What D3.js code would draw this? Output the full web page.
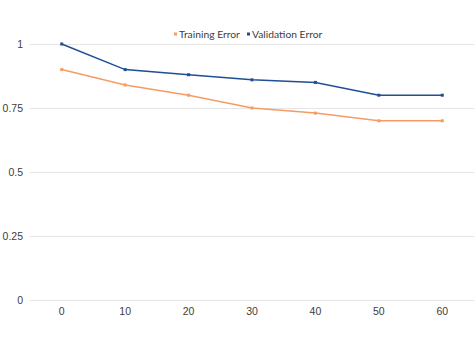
<!DOCTYPE html>
<html><head><meta charset="utf-8">
<script src="https://cdn.jsdelivr.net/npm/d3@7"></script>
<style>body{margin:0;background:#fff}svg{display:block;font-family:Lato,"Open Sans",sans-serif}</style>
</head><body><svg id="c" width="474" height="355"></svg>
<script>
const categories = ["0","10","20","30","40","50","60"];
const trainingError = [0.9,0.84,0.8,0.75,0.73,0.7,0.7];
const validationError = [1.0,0.9,0.88,0.86,0.85,0.8,0.8];
const yTicks = [0,0.25,0.5,0.75,1];
const yTickLabels = ["0","0.25","0.5","0.75","1"];
const seriesNames = ["Training Error","Validation Error"];
const colors = ["#f79a64","#1f4e96"];

const svg = d3.select("#c");
const x = d3.scaleBand().domain(categories).range([30,474]);
const y = d3.scaleLinear().domain([0,1]).range([300,44]);

const gy = svg.append("g").attr("transform","translate(30,0)")
  .call(d3.axisLeft(y).tickValues(yTicks).tickFormat((d,i)=>yTickLabels[i]).tickSize(-444).tickPadding(7));
gy.select(".domain").remove();
gy.selectAll(".tick line").attr("stroke","#e6e6e6");
gy.selectAll(".tick text").attr("fill","#404040").attr("font-size",10.5);

const gx = svg.append("g").attr("transform","translate(0,300)")
  .call(d3.axisBottom(x).tickSize(0).tickPadding(8));
gx.select(".domain").remove();
gx.selectAll(".tick text").attr("fill","#404040").attr("font-size",10.5);

[trainingError, validationError].forEach((vals,i)=>{
  const line = d3.line().x((d,j)=>x(categories[j])+x.bandwidth()/2).y(d=>y(d));
  svg.append("path").datum(vals).attr("d",line).attr("fill","none").attr("stroke",colors[i]).attr("stroke-width",1.5);
  svg.selectAll(null).data(vals).enter().append("rect")
    .attr("x",(d,j)=>x(categories[j])+x.bandwidth()/2-1.5).attr("y",d=>y(d)-1.5)
    .attr("width",3).attr("height",3).attr("fill",colors[i]);
});

const legend = svg.append("g");
const lx = [174, 247];
seriesNames.forEach((n,i)=>{
  legend.append("rect").attr("x",lx[i]).attr("y",32.5).attr("width",3).attr("height",3).attr("fill",colors[i]);
  legend.append("text").attr("x",lx[i]+5).attr("y",38).attr("font-size",10.3).attr("fill","#404040").text(n);
});
</script></body></html>
